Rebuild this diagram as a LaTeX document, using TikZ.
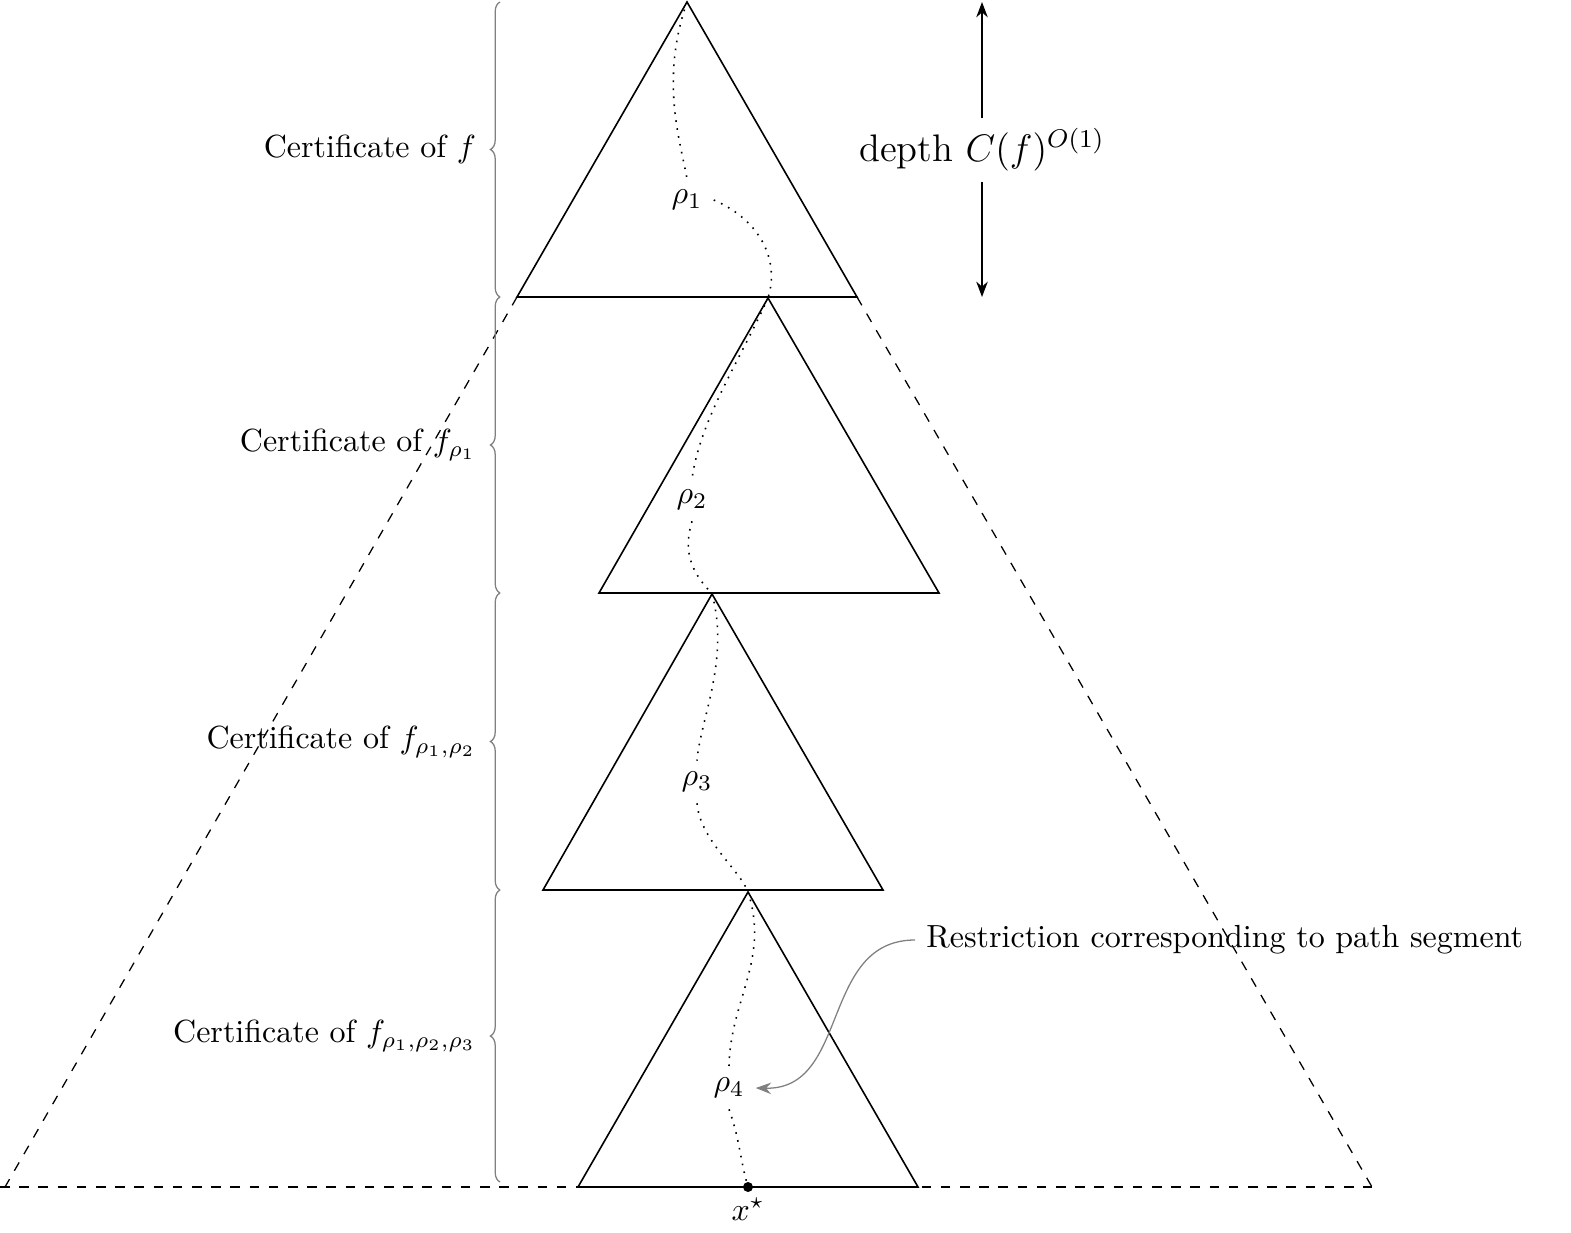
\documentclass[tikz,border=0pt]{standalone}
\usetikzlibrary{decorations.pathreplacing,arrows.meta}
\begin{document}
\begin{tikzpicture}[x=0.3125pt,y=-0.3125pt,
  tri/.style={draw,line width=0.5pt},
  brc/.style={draw=gray,decorate,decoration={brace,amplitude=3pt,mirror}},
  pth/.style={dotted,line width=0.5pt},
  lbl/.style={anchor=east}]
\useasboundingbox (0,0) rectangle (1571,1232);
% big dashed triangle
\coordinate (bl) at (5,1187); \coordinate (br) at (1372,1187);
\coordinate (b0) at (0,1187);
\draw[dashed] (517,297) -- (bl);
\draw[dashed] (857,297) -- (br);
\draw[dashed] (b0) -- (br);
% triangles
\draw[tri] (687,2) coordinate (a1) -- (857,297) -- (517,297) -- cycle;
\draw[tri] (768,298) coordinate (a2) -- (939,593) -- (599,593) -- cycle;
\draw[tri] (712,594) coordinate (a3) -- (883,890) -- (543,890) -- cycle;
\draw[tri] (748,892) coordinate (a4) -- (918,1187) -- (578,1187) -- cycle;
\coordinate (xs) at (748,1187);
% labels rho
\node (r1) at (687,200) {$\rho_1$};
\node (r2) at (692,500) {$\rho_2$};
\node (r3) at (697,782) {$\rho_3$};
\node (r4) at (729,1088) {$\rho_4$};
\draw[pth] (a1) .. controls (660,80) and (680,140) .. (r1.north);
\draw[pth] (r1.east) .. controls (760,220) and (780,260) .. (a2);
\draw[pth] (a2) .. controls (740,360) and (700,420) .. (r2.north);
\draw[pth] (r2.south) .. controls (680,560) and (700,580) .. (a3);
\draw[pth] (a3) .. controls (730,660) and (700,720) .. (r3.north);
\draw[pth] (r3.south) .. controls (700,840) and (740,870) .. (a4);
\draw[pth] (a4) .. controls (770,960) and (730,1000) .. (r4.north);
\draw[pth] (r4.south) .. controls (740,1140) and (740,1160) .. (xs);
\fill (xs) circle (5);
\node[below] (xl) at (xs) {$x^\star$};
% braces
\draw[brc] (500,2) -- (500,297) node[midway,left=4pt] (c1) {Certificate of $f$};
\draw[brc] (500,297) -- (500,593) node[midway,left=4pt] (c2) {Certificate of $f_{\rho_1}$};
\draw[brc] (500,593) -- (500,890) node[midway,left=4pt] (c3) {Certificate of $f_{\rho_1,\rho_2}$};
\draw[brc] (500,890) -- (500,1182) node[midway,left=4pt] (c4) {Certificate of $f_{\rho_1,\rho_2,\rho_3}$};
% depth arrow
\coordinate (dt) at (982,2); \coordinate (db) at (982,297);
\draw[{Stealth}-{Stealth}] (dt) -- (db);
\node[fill=white,font=\large] (dl) at (982,150) {depth $C(f)^{O(1)}$};
% annotation
\node[anchor=west] (ann) at (915,940) {Restriction corresponding to path segment};
\draw[gray,-{Stealth}] (ann.west) .. controls (820,940) and (850,1090) .. (r4.east);
\end{tikzpicture}
\end{document}
